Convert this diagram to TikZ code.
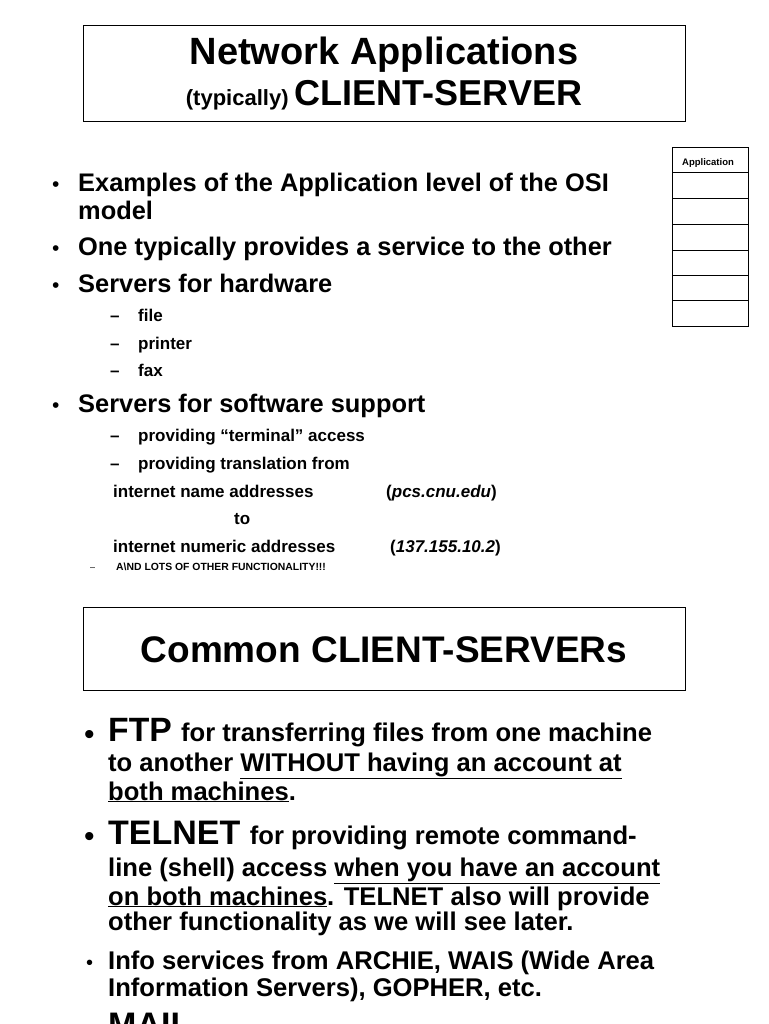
\documentclass[tikz,border=0pt]{standalone}
\usepackage{fontspec}
\setmainfont{Liberation Sans}
\newcommand{\ul}[1]{\underline{#1}}
\begin{document}
\begin{tikzpicture}[x=1pt,y=-1pt,
  t/.style={anchor=base west,inner sep=0pt,font=\bfseries\fontsize{25.4}{28}\selectfont},
  s/.style={anchor=base west,inner sep=0pt,font=\bfseries\fontsize{17}{19}\selectfont},
  b/.style={anchor=base west,inner sep=0pt,font=\bfseries\fontsize{25.6}{28}\selectfont},
  box/.style={draw,line width=0.8pt}]
\useasboundingbox (0,0) rectangle (768,1024);
\clip (0,0) rectangle (768,1024);
% title box 1
\draw[box] (83,25) rectangle (685,121);
\node[anchor=base,inner sep=0,font=\bfseries\fontsize{38}{40}\selectfont] (t1) at (384,65) {Network Applications};
\node[anchor=base,inner sep=0,font=\bfseries] (t2) at (384,106) {\fontsize{22}{24}\selectfont(typically) \fontsize{36}{38}\selectfont CLIENT-SERVER};
% application stack
\draw[box] (672,147) rectangle (748,326);
\foreach \y in {172,198,224,250,275,300} \draw[line width=0.8pt] (672,\y) -- (748,\y);
\node[inner sep=0,font=\bfseries\fontsize{9.5}{10}\selectfont] (app) at (708,163) {Application};
% bullets
\foreach \y in {192,255,292,412} \node[t,font=\fontsize{21}{24}\selectfont] at (52,\y) {•};
\node[t] (a1) at (78,192) {Examples of the Application level of the OSI};
\node[t] (a2) at (78,219) {model};
\node[t] (a3) at (78,255) {One typically provides a service to the other};
\node[t] (a4) at (78,292) {Servers for hardware};
\node[s] at (110,321) {–}; \node[s] (h1) at (138,321) {file};
\node[s] at (110,349) {–}; \node[s] (h2) at (138,349) {printer};
\node[s] at (110,376) {–}; \node[s] (h3) at (138,376) {fax};
\node[t] (a5) at (78,412) {Servers for software support};
\node[s] at (110,441) {–}; \node[s] (w1) at (138,441) {providing “terminal” access};
\node[s] at (110,469) {–}; \node[s] (w2) at (138,469) {providing translation from};
\node[s] (w3) at (113,497) {internet name addresses};
\node[s] (w4) at (386,497) {(\textit{pcs.cnu.edu})};
\node[s] (w5) at (234,524) {to};
\node[s] (w6) at (113,552) {internet numeric addresses};
\node[s] (w7) at (390,552) {(\textit{137.155.10.2})};
\node[anchor=base west,inner sep=0,font=\fontsize{9}{10}\selectfont] at (90,570) {–};
\node[anchor=base west,inner sep=0,font=\bfseries\fontsize{10.4}{11}\selectfont] (w8) at (116,570) {A\textbackslash ND LOTS OF OTHER FUNCTIONALITY!!!};
% title box 2
\draw[box] (83,607) rectangle (685,690);
\node[anchor=base,inner sep=0,font=\bfseries\fontsize{37}{39}\selectfont] (t3) at (384,662) {Common CLIENT-SERVERs};
% lower bullets
\foreach \y in {744,846} \node[b,font=\fontsize{30}{32}\selectfont] at (84,\y) {•};
\node[b,font=\fontsize{20}{22}\selectfont] at (86,969) {•};
\node[b] (f1) at (108,741) {\fontsize{33.7}{36}\selectfont FTP \fontsize{25.6}{28}\selectfont for transferring files from one machine};
\node[b] (f2) at (108,771) {to another \ul{WITHOUT having an account at}};
\node[b] (f3) at (108,800) {\ul{both machines}.};
\node[b] (n1) at (108,844) {\fontsize{34}{36}\selectfont TELNET \fontsize{25.6}{28}\selectfont for providing remote command-};
\node[b] (n2) at (108,876) {line (shell) access \ul{when you have an account}};
\node[b] (n3) at (108,905) {\ul{on both machines}. TELNET also will provide};
\node[b] (n4) at (108,930) {other functionality as we will see later.};
\node[b] (i1) at (108,969) {Info services from ARCHIE, WAIS (Wide Area};
\node[b] (i2) at (108,996) {Information Servers), GOPHER, etc.};
\node[b,font=\bfseries\fontsize{34}{36}\selectfont] (m1) at (108,1036) {MAIL};
\end{tikzpicture}
\end{document}
